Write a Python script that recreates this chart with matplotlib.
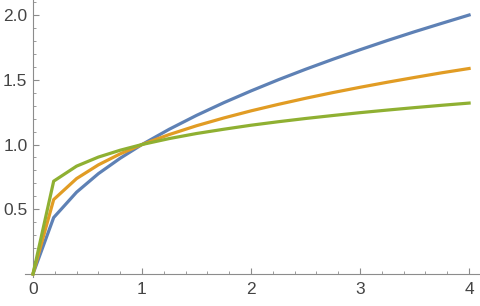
import matplotlib.pyplot as plt
from matplotlib.ticker import MultipleLocator

# values
x = [0, 0.19, 0.4, 0.6, 0.8, 1.0, 1.25, 1.5, 1.75, 2.0, 2.25, 2.5, 2.75, 3.0, 3.25, 3.5, 3.75, 4.0]
blue = [0, 0.436, 0.632, 0.775, 0.894, 1.0, 1.118, 1.225, 1.323, 1.414, 1.5, 1.581, 1.658,
        1.732, 1.803, 1.871, 1.936, 2.0]
orange = [0, 0.575, 0.737, 0.843, 0.928, 1.0, 1.077, 1.145, 1.205, 1.26, 1.31, 1.357, 1.401,
          1.442, 1.481, 1.518, 1.554, 1.587]
green = [0, 0.717, 0.833, 0.903, 0.956, 1.0, 1.046, 1.085, 1.118, 1.149, 1.176, 1.201, 1.224,
         1.246, 1.266, 1.285, 1.303, 1.32]

plt.rcParams['font.family'] = ['Liberation Sans', 'DejaVu Sans']

fig = plt.figure(figsize=(4.8, 3.06), dpi=100)
ax = fig.add_axes([25 / 480, 29 / 306, 455 / 480, 277 / 306])

ax.plot(x, blue, color='#5E81B5', lw=2.3, zorder=3)
ax.plot(x, orange, color='#E19C24', lw=2.3, zorder=3)
ax.plot(x, green, color='#8FB032', lw=2.3, zorder=3)

ax.set_xlim(-0.073, 4.10)
ax.set_ylim(-0.023, 2.116)

# mathematica style axes crossing at origin
for s in ['top', 'right']:
    ax.spines[s].set_visible(False)
ax.spines['left'].set_position(('data', 0))
ax.spines['bottom'].set_position(('data', 0))
for s in ['left', 'bottom']:
    ax.spines[s].set_color('#8c8c8c')
    ax.spines[s].set_linewidth(0.8)

ax.xaxis.set_major_locator(MultipleLocator(1))
ax.xaxis.set_minor_locator(MultipleLocator(0.2))
ax.yaxis.set_major_locator(MultipleLocator(0.5))
ax.yaxis.set_minor_locator(MultipleLocator(0.1))
ax.set_yticks([0.5, 1.0, 1.5, 2.0])
ax.set_yticklabels(['0.5', '1.0', '1.5', '2.0'])

ax.tick_params(which='major', direction='in', length=4.5, width=0.8, color='#8c8c8c',
               labelsize=12.5, labelcolor='#444444')
ax.tick_params(which='minor', direction='in', length=2.5, width=0.6, color='#8c8c8c')
ax.tick_params(axis='x', pad=6)
ax.tick_params(axis='y', pad=4)

fig.savefig('out.png', dpi=100)
